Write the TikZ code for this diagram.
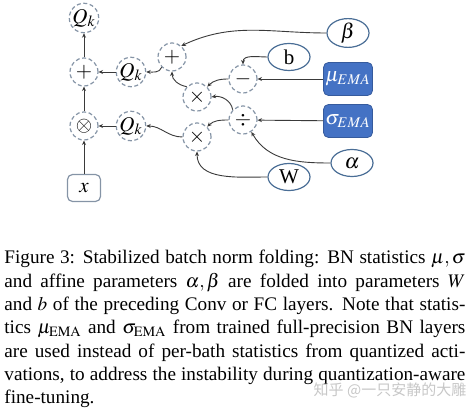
\documentclass[tikz,border=0pt]{standalone}
\usepackage{mathptmx}
\usepackage{fontspec}
\setmainfont{Liberation Serif}
\newfontfamily\cjkfont{Noto Sans CJK SC}
\usetikzlibrary{arrows.meta,shapes.geometric}

\definecolor{dashgray}{HTML}{8594A6}
\definecolor{ellblue}{HTML}{4A6E96}
\definecolor{emablue}{HTML}{4472C4}
\definecolor{wiregray}{HTML}{3A3A3A}

\begin{document}
\begin{tikzpicture}[x=0.5pt,y=-0.5pt,
  opnode/.style={draw=dashgray,dash pattern=on 2pt off 1.3pt,line width=0.6pt,circle,minimum size=14pt,inner sep=0pt,fill=white,font=\fontsize{10.5}{11}\selectfont},
  parnode/.style={draw=ellblue,line width=0.6pt,ellipse,minimum width=21pt,minimum height=13.5pt,inner sep=0pt,fill=white,font=\fontsize{10.5}{11}\selectfont},
  emanode/.style={draw=emablue!80!black,fill=emablue,rounded corners=2.5pt,minimum width=24.5pt,minimum height=16.5pt,inner sep=0pt,text=white,font=\fontsize{10}{11}\selectfont},
  wire/.style={draw=wiregray,line width=0.45pt,-{Stealth[length=2.2pt,width=2pt]}}]

  \useasboundingbox (0,0) rectangle (474,410);

  % main chain
  \draw (84,18) node[opnode] (qtop) {$Q_k$};
  \draw (84,72) node[opnode] (plusa) {$+$};
  \draw (84,126) node[opnode] (otimes) {$\otimes$};
  \draw (84,188) node[draw=dashgray,line width=0.6pt,rounded corners=2.5pt,minimum width=16.5pt,minimum height=13.5pt,inner sep=0pt,font=\fontsize{10.5}{11}\selectfont] (x) {$x$};

  \draw (131,72) node[opnode] (qbias) {$Q_k$};
  \draw (131,126) node[opnode] (qweight) {$Q_k$};

  % folding ops
  \draw (172,57) node[opnode] (plusb) {$+$};
  \draw (197,97) node[opnode] (timesa) {$\times$};
  \draw (197,137) node[opnode] (timesb) {$\times$};
  \draw (243,79) node[opnode] (minus) {$-$};
  \draw (243,120) node[opnode] (div) {$\div$};

  % parameters
  \draw (348,33) node[parnode] (beta) {$\beta$};
  \draw (289,57) node[parnode] (b) {b};
  \draw (348,79) node[emanode] (mu) {$\mu_{EMA}$};
  \draw (348,121) node[emanode] (sigma) {$\sigma_{EMA}$};
  \draw (352,163) node[parnode] (alpha) {$\alpha$};
  \draw (289,177) node[parnode] (w) {W};

  \draw[wire] (x) -- (otimes);
  \draw[wire] (otimes) -- (plusa);
  \draw[wire] (plusa) -- (qtop);
  \draw[wire] (qbias) -- (plusa);
  \draw[wire] (qweight) -- (otimes);

  \draw[wire] (plusb.225) to[out=-110,in=0] (qbias.east);
  \draw[wire] (beta.west) to[out=180,in=25] (plusb.50);
  \draw[wire] (timesa.135) to[out=170,in=-90] (plusb.south);
  \draw[wire] (b.west) to[out=180,in=90] (minus.north);
  \draw[wire] (mu) -- (minus);
  \draw[wire] (minus.west) to[out=180,in=45] (timesa.45);
  \draw[wire] (div.135) to[out=100,in=10] (timesa.east);
  \draw[wire] (div.west) to[out=180,in=45] (timesb.45);
  \draw[wire] (sigma) -- (div);
  \draw[wire] (alpha.west) to[out=180,in=-60] (div.-55);
  \draw[wire] (w.west) to[out=180,in=-90] (timesb.south);
  \draw[wire] (timesb.west) to[out=180,in=0] (qweight.east);

  % caption
  \draw (4,250) node[anchor=north west,inner sep=0pt,text width=230.5pt,align=justify,font=\fontsize{9.6}{11.65}\selectfont] (caption) {Figure 3: Stabilized batch norm folding: BN statistics $\mu,\sigma$\linebreak
  and affine parameters $\alpha,\beta$ are folded into parameters $W$\linebreak
  and $b$ of the preceding Conv or FC layers. Note that statis-\linebreak
  tics $\mu_{\mathrm{EMA}}$ and $\sigma_{\mathrm{EMA}}$ from trained full-precision BN layers\linebreak
  are used instead of per-bath statistics from quantized acti-\linebreak
  vations, to address the instability during quantization-aware\linebreak
  fine-tuning.};

  \draw (390,390) node[text=black!22,font=\cjkfont\fontsize{7.5}{8}\selectfont] (mark) {知乎 @一只安静的大雕};

\end{tikzpicture}
\end{document}
